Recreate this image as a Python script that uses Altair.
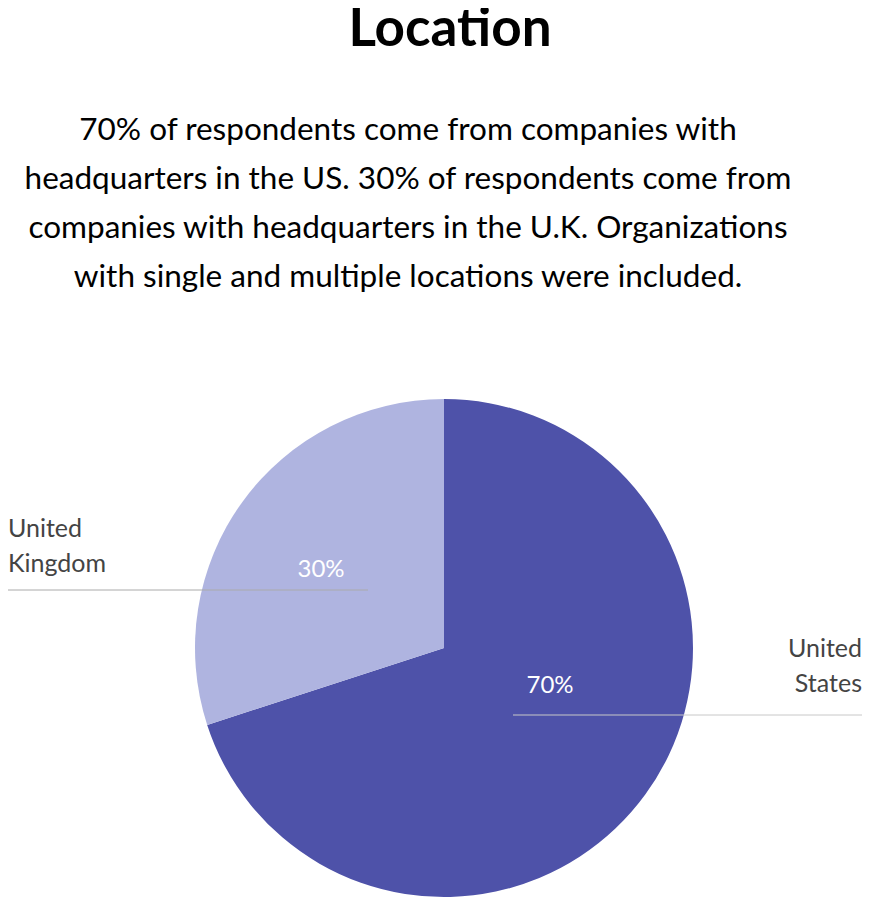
import altair as alt
import pandas as pd

# Data
countries = ["United States", "United Kingdom"]
shares = [70, 30]
pct_labels = ["70%", "30%"]
colors = ["#4E52A9", "#AFB4E0"]

title_text = "Location"
subtitle_lines = [
    "70% of respondents come from companies with",
    "headquarters in the US. 30% of respondents come from",
    "companies with headquarters in the U.K. Organizations",
    "with single and multiple locations were included.",
]

FONT = "Lato"
W, H = 854, 890
CX, CY, R = 436, 640, 249

pie_df = pd.DataFrame({"country": countries, "share": shares, "label": pct_labels,
                       "order": [0, 1]})

base = alt.Chart(pie_df)

pie = base.mark_arc(radius=R).encode(
    theta=alt.Theta("share:Q", stack=True),
    order=alt.Order("order:Q"),
    color=alt.Color("country:N", scale=alt.Scale(domain=countries, range=colors), legend=None),
    x=alt.value(CX),
    y=alt.value(CY),
)

def single_text(text, x, y, size, color="#000", weight="normal", align="center"):
    return alt.Chart(pd.DataFrame({"t": [text]})).mark_text(
        font=FONT, fontSize=size, fontWeight=weight, color=color, align=align,
        baseline="alphabetic",
    ).encode(text="t:N", x=alt.value(x), y=alt.value(y))

layers = [pie]

# percent labels
layers.append(single_text(pct_labels[1], 313, 569, 24, "#FFFFFF"))
layers.append(single_text(pct_labels[0], 542, 685, 24, "#FFFFFF"))

# category labels
layers.append(single_text("United", 0, 529, 25, "#444444", align="left"))
layers.append(single_text("Kingdom", 0, 564, 25, "#444444", align="left"))
layers.append(single_text("United", 854, 649, 25, "#444444", align="right"))
layers.append(single_text("States", 854, 684, 25, "#444444", align="right"))

# callout lines
uk_line = alt.Chart(pd.DataFrame({"a": [0]})).mark_rule(color="#AAAAAA", strokeWidth=1).encode(
    x=alt.value(0), x2=alt.value(360), y=alt.value(582))
us_line = alt.Chart(pd.DataFrame({"a": [0]})).mark_rule(color="#C8C8C8", strokeWidth=1).encode(
    x=alt.value(505), x2=alt.value(854), y=alt.value(707))
layers += [uk_line, us_line]

# title and subtitle
layers.append(single_text(title_text, 442, 38, 53, "#000000", weight="bold"))
for i, line in enumerate(subtitle_lines):
    layers.append(single_text(line, 400, 132 + 49 * i, 31.5, "#000000"))

chart = alt.layer(*layers).properties(
    width=W, height=H, autosize=alt.AutoSizeParams(type="none"), padding=0
).configure_view(stroke=None)

chart.save("out.html", embed_options={"renderer": "svg", "actions": False})
